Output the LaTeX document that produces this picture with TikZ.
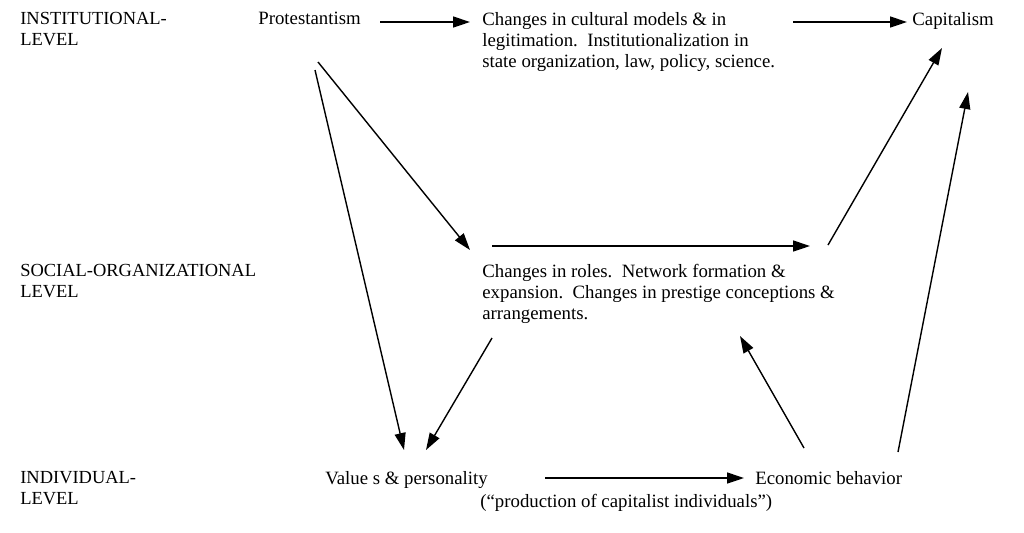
\documentclass[tikz,border=0pt]{standalone}
\usepackage{fontspec}
\setmainfont{Liberation Serif}
\usetikzlibrary{arrows.meta}
\tikzset{
  lvl/.style={anchor=north west, align=left, font=\fontsize{10.5}{12}\selectfont, inner sep=0pt},
  box/.style={anchor=north west, align=left, font=\fontsize{10.7}{12}\selectfont, inner sep=0pt},
  flow/.style={-{Triangle[length=0.34cm,width=0.22cm]}, line width=0.8pt}
}
\begin{document}
\begin{tikzpicture}[x=0.02cm,y=-0.02cm]
        \useasboundingbox (0,0) rectangle (1024,532);
        % levels
        \node [lvl] (inst) at (20,12) {INSTITUTIONAL-\\LEVEL};
        \node [lvl] (soc) at (20,264) {SOCIAL-ORGANIZATIONAL\\LEVEL};
        \node [lvl] (ind) at (20,471) {INDIVIDUAL-\\LEVEL};

        % boxes
        \node [box] (prot) at (258,12) {Protestantism};
        \node [box] (cult) at (482,12) {Changes in cultural models \& in\\legitimation.\ \ Institutionalization in\\state organization, law, policy, science.};
        \node [box] (cap) at (912,12) {Capitalism};
        \node [box] (roles) at (482,264) {Changes in roles.\ \ Network formation \&\\expansion.\ \ Changes in prestige conceptions \&\\arrangements.};
        \node [box] (val) at (325,471) {Value s \& personality};
        \node [box] (econ) at (755,471) {Economic behavior};
        \node [box] (prod) at (480,494) {(``production of capitalist individuals'')};

        % arrow ends
        \coordinate (a1) at (380,22);  \coordinate (b1) at (470,22);
        \coordinate (a2) at (793,22);  \coordinate (b2) at (907,22);
        \coordinate (a3) at (315,70);  \coordinate (b3) at (404,450);
        \coordinate (a4) at (318,62);  \coordinate (b4) at (470,250);
        \coordinate (a5) at (492,246); \coordinate (b5) at (810,246);
        \coordinate (a6) at (828,245); \coordinate (b6) at (942,48);
        \coordinate (a7) at (492,338); \coordinate (b7) at (426,450);
        \coordinate (a8) at (545,478); \coordinate (b8) at (744,478);
        \coordinate (a9) at (804,448); \coordinate (b9) at (740,336);
        \coordinate (a10) at (898,452); \coordinate (b10) at (968,92);

        \foreach \i in {1,...,10}
          \draw [flow] (a\i) -- (b\i);
\end{tikzpicture}
\end{document}
